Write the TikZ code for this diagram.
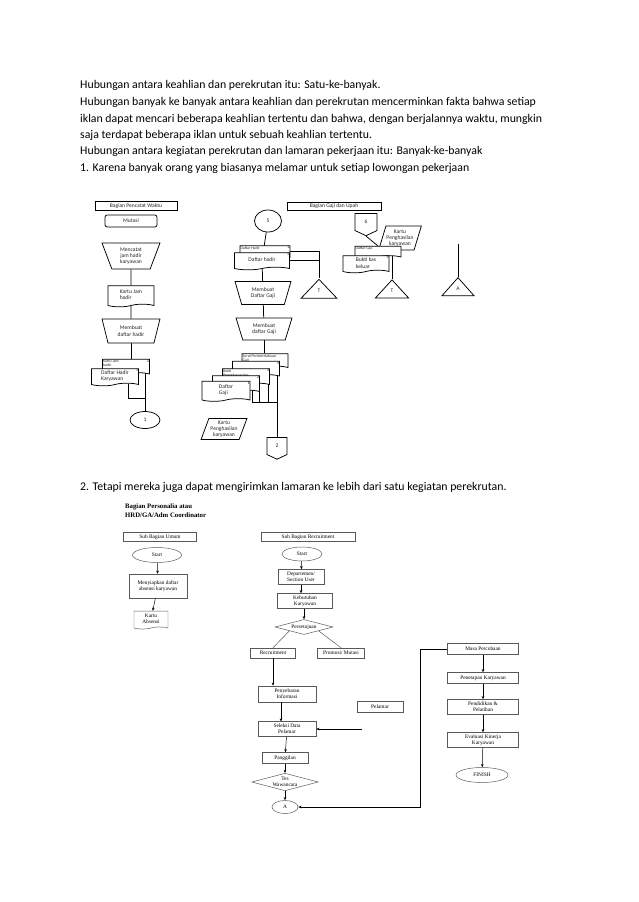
\documentclass[tikz,border=0pt]{standalone}
\usepackage{fontspec}
\setmainfont{Carlito}
\newfontfamily\timesfont{Liberation Serif}
\usetikzlibrary{shapes.geometric,shapes.symbols,arrows.meta,backgrounds}

\newcommand{\px}{0.9326pt}

\tikzset{
  teks/.style={anchor=west, inner sep=0pt, font=\fontsize{11}{13}\selectfont},
  sz/.style 2 args={minimum width=#1*\px, minimum height=#2*\px},
  % bagan pertama
  garisA/.style={draw=black, line width=0.7pt},
  kotakA/.style={garisA, fill=white, inner sep=0.5pt, align=center, text=black!85,
    font=\fontsize{5.2}{5.8}\selectfont},
  bulatA/.style={kotakA, ellipse},
  trapA/.style={kotakA, trapezium, shape border rotate=180, trapezium stretches=true,
    trapezium angle=72},
  dokA/.style={kotakA, tape, tape bend top=none, tape bend height=2.5pt, align=left},
  jajarA/.style={kotakA, trapezium, trapezium left angle=68, trapezium right angle=112,
    trapezium stretches=true},
  segitigaA/.style={kotakA, isosceles triangle, isosceles triangle stretches,
    shape border rotate=90},
  offA/.style={kotakA, signal, signal to=south, signal from=nowhere,
    signal pointer angle=130},
  nomor/.style={label={[font=\fontsize{3.5}{4}\selectfont, inner sep=0.6pt,
    anchor=north east]north east:#1}},
  tulisAtas/.style={label={[font=\fontsize{3.6}{3.9}\selectfont, text=black!85,
    align=left, inner sep=0.8pt, anchor=north west]north west:#1}},
  % bagan kedua
  kotakB/.style={draw=black!65, line width=0.45pt, fill=white, inner sep=0.5pt,
    align=center, font=\timesfont\fontsize{5}{5.6}\selectfont},
  elipsB/.style={kotakB, ellipse},
  belahB/.style={kotakB, diamond, aspect=3.8},
  dokB/.style={kotakB, tape, tape bend top=none, tape bend height=2pt},
  garisB/.style={draw=black!65, line width=0.45pt},
  panah/.style={draw=black, line width=0.45pt, -{Stealth[length=3pt,width=2.4pt]}},
}

\begin{document}
\begin{tikzpicture}[x=\px, y=-\px]

\path[use as bounding box] (0,0) rectangle (638,902);
\begin{scope}[on background layer]
  \fill[white] (0,0) rectangle (638,902);
\end{scope}

% Teks
\node[teks] (p1) at (80,85) {Hubungan antara keahlian dan perekrutan itu: Satu-ke-banyak.};
\node[teks] (p2) at (80,102) {Hubungan banyak ke banyak antara keahlian dan perekrutan mencerminkan fakta bahwa setiap};
\node[teks] (p3) at (80,119) {iklan dapat mencari beberapa keahlian tertentu dan bahwa, dengan berjalannya waktu, mungkin};
\node[teks] (p4) at (80,135) {saja terdapat beberapa iklan untuk sebuah keahlian tertentu.};
\node[teks] (p5) at (80,151) {Hubungan antara kegiatan perekrutan dan lamaran pekerjaan itu: Banyak-ke-banyak};
\node[teks] (p6) at (80,168) {1. Karena banyak orang yang biasanya melamar untuk setiap lowongan pekerjaan};
\node[teks] (p7) at (80,487) {2. Tetapi mereka juga dapat mengirimkan lamaran ke lebih dari satu kegiatan perekrutan.};

% Bagan 1 - Bagian Pencatat Waktu
\node[kotakA, sz={82}{9}] (hdrA) at (136,206) {Bagian Pencatat Waktu};
\node[kotakA, rounded corners=2pt, sz={52}{12}] (mutasi) at (131,221) {Mutasi};
\node[trapA, sz={58}{26}] (catat) at (131,256) {Mencatat\\jam hadir\\karyawan};
\node[dokA, sz={46}{21}] (kartuA) at (131,295) {Kartu Jam\\hadir};
\node[trapA, sz={58}{24}] (buatA) at (131,331) {Membuat\\daftar hadir};
\node[dokA, sz={47}{16}, nomor=2, tulisAtas={Kartu Jam\\hadir}] (docA2) at (126,366) {};
\node[dokA, sz={47}{17}, nomor=1] (docA1) at (115,376) {Daftar Hadir\\Karyawan};
\node[bulatA, sz={30}{17}] (conA) at (145,420) {1};
\coordinate (jA) at (145,398);

% Bagan 1 - Bagian Gaji dan Upah
\node[kotakA, sz={94}{8}] (hdrB) at (334,206) {Bagian Gaji dan Upah};
\node[bulatA, sz={27}{22}] (conB5) at (268,221) {5};
\node[dokA, sz={50}{13}, nomor=2, tulisAtas={Daftar Hadir}] (docB4) at (265,251) {};
\node[dokA, sz={55}{17}, nomor=1] (docB1) at (262,260) {Daftar hadir};
\node[segitigaA, sz={36}{19}] (trT1) at (319,291) {T};
\node[trapA, sz={56}{23}] (buatB1) at (263,293) {Membuat\\Daftar Gaji};
\node[trapA, sz={56}{22}] (buatB2) at (264,329) {Membuat\\daftar Gaji};
\node[dokA, sz={46}{15}, tulisAtas={Surat Pemberitahuan\\Gaji}] (s5) at (265,360) {};
\node[dokA, sz={47}{16}, nomor=4] (s4) at (256,368) {};
\node[dokA, sz={47}{17}, nomor=3, tulisAtas={Bukti\\Pengeluaran kas}] (s3) at (246,376) {};
\node[dokA, sz={47}{17}, nomor=2] (s2) at (236,383) {};
\node[dokA, sz={48}{20}, nomor=1] (s1) at (226,390) {Daftar\\Gaji};
\coordinate (jB) at (277,402);
\node[offA, sz={20}{18}] (conB2) at (277,446) {2};
\node[jajarA, sz={46}{21}] (karB) at (224,429) {Kartu\\Penghasilan\\karyawan};

\node[offA, sz={22}{18}] (conB6) at (366,222) {6};
\node[jajarA, sz={42}{24}] (karC) at (400,238) {Kartu\\Penghasilan\\karyawan};
\node[dokA, sz={46}{12}, tulisAtas={Daftar Gaji}] (docC2) at (378,251) {};
\node[dokA, sz={46}{17}, nomor=3] (docC1) at (366,263) {Bukti kas\\keluar};
\node[segitigaA, sz={33}{18}] (trT2) at (392,291) {T};
\node[segitigaA, sz={32}{18}] (trA) at (458,289) {A};
\coordinate (atasA) at (458,244);

% Bagan 2 - Personalia
\node[anchor=north west, inner sep=0pt, align=left,
  font=\timesfont\bfseries\fontsize{6.3}{7.6}\selectfont] (judul) at (125,504)
  {Bagian Personalia atau\\HRD/GA/Adm Coordinator};

\node[kotakB, sz={73}{9}] (subU) at (160,537) {Sub Bagian Umum};
\node[elipsB, sz={49}{15}] (startU) at (157,555) {Start};
\node[kotakB, sz={58}{24}] (siap) at (158,586) {Menyiapkan daftar\\absensi karyawan};
\node[dokB, sz={34}{18}] (absen) at (151,619) {Kartu\\Absensi};

\node[kotakB, sz={94}{9}] (subR) at (308,537) {Sub Bagian Recruitment};
\node[elipsB, sz={40}{14}] (startR) at (302,554) {Start};
\node[kotakB, sz={46}{15}] (dept) at (301,577) {Departemen/\\Section User};
\node[kotakB, sz={55}{15}] (butuh) at (305,601) {Kebutuhan\\Karyawan};
\node[belahB, sz={58}{15}] (setuju) at (304,627) {Persetujuan};
\node[kotakB, sz={45}{10}] (rekrut) at (273,653) {Recruitment};
\node[kotakB, sz={47}{10}] (promosi) at (341,653) {Promosi/ Mutasi};
\node[kotakB, sz={58}{16}] (sebar) at (287,694) {Penyebaran\\Informasi};
\node[kotakB, sz={46}{11}] (pelamar) at (380,707) {Pelamar};
\node[kotakB, sz={58}{15}] (seleksi) at (287,729) {Seleksi Data\\Pelamar};
\coordinate (pelIn) at (362,729);
\node[kotakB, sz={46}{11}] (panggil) at (285,758) {Panggilan};
\node[belahB, sz={56}{15}] (tes) at (285,782) {Tes\\Wawancara};
\node[elipsB, sz={26}{13}] (conAA) at (285,807) {A};

\node[kotakB, sz={71}{11}] (masa) at (483,649) {Masa Percobaan};
\node[kotakB, sz={71}{11}] (tetap) at (483,678) {Penetapan Karyawan};
\node[kotakB, sz={71}{15}] (didik) at (483,707) {Pendidikan \&\\Pelatihan};
\node[kotakB, sz={71}{15}] (evaluasi) at (483,740) {Evaluasi Kinerja\\Karyawan};
\node[elipsB, sz={52}{15}] (finish) at (482,775) {FINISH};

% Garis
\begin{scope}[on background layer]
  \draw[garisA] (catat) -- (kartuA);
  \draw[garisA] (kartuA) -- (buatA);
  \draw[garisA] (buatA.south) -- (buatA.south |- docA2.north);
  \draw[garisA] (conA.north) -- (conA.north |- docA2.south);
  \draw[garisA] (docA1.south -| 128,0) |- (jA);

  \draw[garisA] (conB5) -- (docB1);
  \draw[garisA] (docB4.east) -- (docB4.east -| trT1.apex) -- (trT1.apex);
  \draw[garisA] (docB1.east) -- (docB1.east -| trT1.apex);
  \draw[garisA] (docB1) -- (buatB1);
  \draw[garisA] (buatB1) -- (buatB2);
  \draw[garisA] (buatB2.south) -- (buatB2.south |- s5.north);
  \draw[garisA] (s5.south -| jB) -- (conB2.north);
  \draw[garisA] (s4.south -| 268,0) -- (268,402);
  \draw[garisA] (s3.south -| 259,0) -- (259,402);
  \draw[garisA] (s2.south -| 252,0) -- (252,402) -- (jB);

  \draw[garisA] (conB6.south) -- (docC2.north);
  \draw[garisA] (trT2.apex) -- (trT2.apex |- docC2.south);
  \draw[garisA] (atasA) -- (trA.apex);
\end{scope}

\draw[panah] (startU) -- (siap);
\draw[panah] (siap) -- (absen);
\draw[panah] (startR) -- (dept);
\draw[panah] (dept) -- (dept |- butuh.north);
\draw[panah] (butuh.south -| setuju) -- (setuju);
\draw[garisB] (setuju.south west) -- (rekrut.north);
\draw[garisB] (setuju.south east) -- (promosi.north);
\draw[panah] (rekrut.south) -- (rekrut.south |- sebar.north);
\draw[panah] (sebar.south -| 281,0) -- (281,721.5);
\draw[panah] (pelIn) -- (seleksi.east);
\draw[panah] (seleksi) -- (panggil);
\draw[panah] (panggil) -- (tes);
\draw[panah] (tes) -- (conAA);
\draw[panah] (masa.west) -- ++(-27,0) |- (conAA.east);
\draw[panah] (masa) -- (tetap);
\draw[panah] (tetap) -- (didik);
\draw[panah] (didik) -- (evaluasi);
\draw[panah] (evaluasi) -- (finish);

\end{tikzpicture}
\end{document}
